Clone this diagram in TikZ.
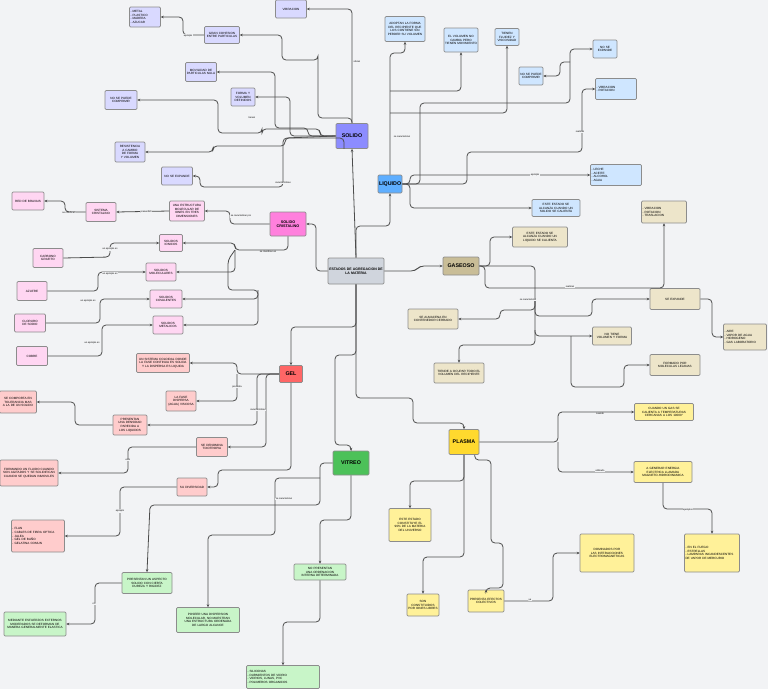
\documentclass[tikz,border=0pt]{standalone}
\usepackage{fontspec}
\setmainfont{Liberation Sans}
\usetikzlibrary{arrows.meta}
\uchyph=0
\hyphenpenalty=10000
\exhyphenpenalty=10000
\definecolor{bg}{HTML}{F2F3F5}
\definecolor{cS}{HTML}{8C8CFF}\definecolor{lS}{HTML}{D9D9FF}
\definecolor{cC}{HTML}{FF80DD}\definecolor{lC}{HTML}{FFD6F2}
\definecolor{cL}{HTML}{5EAEFF}\definecolor{lL}{HTML}{CFE6FF}
\definecolor{cG}{HTML}{C9BD97}\definecolor{lG}{HTML}{EDE5CA}
\definecolor{cR}{HTML}{FF6666}\definecolor{lR}{HTML}{FFCCCC}
\definecolor{cV}{HTML}{4CC159}\definecolor{lV}{HTML}{C8F5C8}
\definecolor{cP}{HTML}{FFD92E}\definecolor{lP}{HTML}{FFF199}
\definecolor{cM}{HTML}{D0D5DD}
\newcommand\bx[7]{\pgfmathsetmacro\tw{#4*0.75-1.5}\node[#6, minimum width=#4*0.75pt, minimum height=#5*0.75pt, text width=\tw pt] (#1) at (#2,#3) {#7};}
\tikzset{
 box/.style={draw=black!45, line width=.5pt, fill=#1, rounded corners=.8pt, inner sep=.5pt, align=center, font=\fontsize{2.3}{2.8}\selectfont},
 lbox/.style={box=#1, align=left},
 main/.style={box=#1, font=\fontsize{4}{4.6}\selectfont\bfseries},
 e/.style={draw=black!70, line width=.6pt, rounded corners=3pt, -{Stealth[length=2.2pt,width=2pt]}},
 l/.style={font=\fontsize{1.8}{2}\selectfont, fill=bg, inner sep=.3pt}
}
\begin{document}
\begin{tikzpicture}[x=0.75pt,y=-0.75pt]
\fill[bg] (0,0) rectangle (768,689);
\useasboundingbox (0,0) rectangle (768,689);
% main
\bx{c}{356}{271}{56}{26}{box=cM,font=\fontsize{2.6}{3}\selectfont\bfseries}{ESTADOS DE AGREGACION DE\\LA MATERIA}
\bx{sol}{352}{136}{32}{25}{main=cS}{SOLIDO}
\bx{cri}{288}{224}{36}{24}{box=cC,font=\fontsize{2.8}{3.3}\selectfont\bfseries}{SOLIDO CRISTALINO}
\bx{liq}{390}{184}{24}{18}{main=cL}{LIQUIDO}
\bx{gas}{461}{266}{36}{18}{main=cG}{GASEOSO}
\bx{gel}{291}{374}{23}{17}{main=cR}{GEL}
\bx{vit}{351}{463}{36}{24}{main=cV}{VITREO}
\bx{pla}{464}{442}{30}{25}{main=cP}{PLASMA}
% solido
\bx{vib}{291}{9}{31}{18}{box=lS}{VIBRACION}
\bx{met}{145}{17}{31}{20}{lbox=lS}{- METAL\\- PLASTICO\\- MADERA\\- AZUCAR}
\bx{gra}{222}{35}{35}{17}{box=lS}{GRAN COHESION ENTRE PARTICULAS}
\bx{mov}{201}{72}{31}{19}{box=lS}{MOVILIDAD DE PARTICULAS NULA}
\bx{for}{243}{97}{24}{18}{box=lS}{FORMA Y VOLUMEN DEFINIDOS}
\bx{noc}{121}{100}{32}{19}{box=lS}{NO SE PUEDE COMPRIMIR}
\bx{res}{130}{152}{30}{20}{box=lS}{RESISTENCIA A CAMBIO DE FORMA Y VOLUMEN}
\bx{noe}{177}{176}{31}{18}{box=lS}{NO SE EXPANDE}
% cristalino
\bx{est}{187}{211}{35}{20}{box=lC}{UNA ESTRUCTURA MOLECULAR DE IONES EN TRES DIMENSIONES}
\bx{sis}{101}{212}{30}{19}{box=lC}{SISTEMA CRISTALINO}
\bx{red}{28}{201}{32}{18}{box=lC}{RED DE BRAVAIS}
\bx{ion}{171}{243}{23}{17}{box=lC}{SOLIDOS IONICOS}
\bx{mol}{161}{272}{30}{18}{box=lC}{SOLIDOS MOLECULARES}
\bx{cov}{166}{299}{32}{18}{box=lC}{SOLIDOS COVALENTES}
\bx{mtl}{168}{325}{30}{18}{box=lC}{SOLIDOS METALICOS}
\bx{ex1}{48}{258}{30}{19}{box=lC}{CARBONO GRAFITO}
\bx{ex2}{32}{291}{30}{19}{box=lC}{AZUFRE}
\bx{ex3}{30}{323}{31}{18}{box=lC}{CLORURO DE SODIO}
\bx{ex4}{32}{356}{31}{19}{box=lC}{COBRE}
% liquido
\bx{ado}{405}{29}{40}{25}{box=lL}{ADOPTAN LA FORMA DEL RECIPIENTE QUE LOS CONTIENE SIN PERDER SU VOLUMEN}
\bx{vol}{461}{40}{34}{24}{box=lL}{EL VOLUMEN NO CAMBIA PERO TIENEN MOVIMIENTO}
\bx{flu}{507}{37}{24}{17}{box=lL}{TIENEN FLUIDEZ Y VISCOSIDAD}
\bx{lnoe}{605}{49}{24}{18}{box=lL}{NO SE EXPANDE}
\bx{lnoc}{531}{76}{24}{18}{box=lL}{NO SE PUEDE COMPRIMIR}
\bx{lvib}{616}{89}{41}{21}{lbox=lL}{- VIBRACION\\- ROTACION}
\bx{lej}{616}{175}{51}{21}{lbox=lL}{- LECHE\\- ACEITE\\- ALCOHOL\\- AGUA}
\bx{lest}{556}{208}{48}{17}{box=lL}{ESTE ESTADO SE ALCANZA CUANDO UN SOLIDO SE CALIENTA}
% gaseoso
\bx{gvib}{664}{212}{45}{22}{lbox=lG}{- VIBRACION\\- ROTACION\\- TRASLACION}
\bx{gest}{540}{237}{55}{20}{box=lG}{ESTE ESTADO SE ALCANZA CUANDO UN LIQUIDO SE CALIENTA}
\bx{gexp}{675}{299}{50}{21}{box=lG}{SE EXPANDE}
\bx{gair}{745}{337}{43}{26}{lbox=lG}{- AIRE\\- VAPOR DE AGUA\\- HIDROGENO\\- GAS LABORATORIO}
\bx{gnot}{612}{336}{39}{18}{box=lG}{NO TIENE VOLUMEN Y FORMA}
\bx{gfor}{675}{365}{50}{21}{box=lG}{FORMADO POR MOLECULAS LEJANAS}
\bx{galm}{433}{319}{50}{20}{box=lG}{SE ALMACENA EN CONTENEDOR CERRADO}
\bx{gtie}{459}{373}{50}{20}{box=lG}{TIENDE A OCUPAR TODO EL VOLUMEN DEL RECIPIENTE}
% gel
\bx{rsis}{163}{363}{53}{19}{box=lR}{UN SISTEMA COLOIDAL DONDE LA FASE CONTINUA ES SOLIDA Y LA DISPERSA ES LIQUIDA}
\bx{rfas}{181}{401}{30}{20}{box=lR}{LA FASE DISPERSA (AGUA) VISCOSA}
\bx{rcom}{18}{402}{37}{22}{box=lR}{SE COMPORTA EN TOLERANCIA MAS A LA DE UN SOLIDO}
\bx{rden}{130}{425}{34}{20}{box=lR}{PRESENTAN UNA DENSIDAD PARECIDA A LOS LIQUIDOS}
\bx{rtix}{212}{447}{31}{19}{box=lR}{SE DENOMINA TIXOTROPIA}
\bx{rfor}{29}{473}{58}{26}{box=lR}{FORMANDO UN FLUIDO CUANDO SON AGITADOS Y SE SOLIDIFICAN CUANDO SE QUEDAN INMOVILES}
\bx{rdiv}{192}{487}{30}{18}{box=lR}{SU DIVERSIDAD}
\bx{rej}{38}{536}{53}{32}{lbox=lR}{- FLAN\\- CABLES DE FIBRA OPTICA\\- JALEA\\- GEL DE BA\~NO\\- GELATINA COMUN}
% vitreo
\bx{vasp}{147}{583}{50}{21}{box=lV}{PRESENTAN UN ASPECTO SOLIDO CON CIERTA DUREZA Y RIGIDEZ}
\bx{vela}{35}{624}{62}{24}{box=lV}{MEDIANTE ESFUERZOS EXTERNOS MODERADOS SE DEFORMAN DE MANERA GENERALMENTE ELASTICA}
\bx{vpos}{208}{620}{63}{25}{box=lV}{POSEER UNA DISPERSION MOLECULAR, NO MUESTRAN UNA ESTRUCTURA ORDENADA DE LARGO ALCANCE}
\bx{vnop}{320}{572}{52}{16}{box=lV}{NO PRESENTAN UNA ORDENACION INTERNA DETERMINADA}
\bx{vsil}{283}{677}{73}{23}{lbox=lV}{- SILICONAS\\- DURMIENTOS DE VIDRIO\\- VIDRIOS, LUNAS, PVC\\- POLIMEROS ORGANICOS}
% plasma
\bx{pcua}{664}{412}{59}{17}{box=lP}{CUANDO UN GAS SE CALIENTA A TEMPERATURAS CERCANAS A LOS 10000\textdegree}
\bx{pgen}{663}{472}{58}{21}{box=lP}{A GENERAR ENERGIA ELECTRICA LLAMADA MAGNETO-HIDRODINAMICA}
\bx{pej}{712}{553}{55}{38}{lbox=lP}{- EN EL FUEGO\\- ESTRELLAS\\- LAMPARAS INCANDESCENTES DE VAPOR DE MERCURIO}
\bx{p99}{410}{525}{42}{33}{box=lP}{ESTE ESTADO CONSTITUYE EL 99\% DE LA MATERIA DEL UNIVERSO}
\bx{pion}{423}{605}{32}{22}{box=lP}{SON CONSTITUIDOS POR IONES LIBRES}
\bx{pcol}{486}{601}{36}{22}{box=lP}{PRESENTA EFECTOS COLECTIVOS}
\bx{pdom}{607}{553}{54}{38}{box=lP}{DOMINADOS POR LAS INTERACCIONES ELECTROMAGNETICAS}
% ---- edges central
\draw[e] (c.north) -- (sol.south);
\draw[e] (c.north) |- (390,226) -- (liq.south);
\draw[e] (c.west) -- (316,271) |- (cri.east);
\draw[e] (c.east) -- (415,271) -- (420,266) -- (gas.west);
\draw[e] (c.south) |- (291,327) -- (gel.north);
\draw[e] (c.south) |- (335,355) |- (351,445) -- (vit.north);
\draw[e] (c.south) |- (413,398) |- (464,423) -- (pla.north);
% solido
\draw[e] (sol.north) |- (vib.east);
\draw[e] (sol.north) |- (318,118) -- (318,60) |- (282,60) |- (gra.east);
\draw[e] (sol.west) -| (308,128) -- (275,128) |- (mov.east);
\draw[e] (sol.west) -- (290,136) |- (for.east);
\draw[e] (gra.west) -- (183,35) |- (met.east);
\draw[e] (sol.west) -- (320,136) |- (262,129) |- (218,133) |- (noc.east);
\draw[e] (sol.west) -- (285,138) |- (213,146) |- (res.east);
\draw[e] (sol.south) ++(-8,0) |- (283,138) -- (283,187) -- (200,187) |- (noe.east);
% cristalino
\draw[e] (cri.west) -- (230,224) |- (est.east);
\draw[e] (est.west) -- (sis.east);
\draw[e] (sis.west) -- (65,212) |- (red.east);
\draw[e] (cri.south) |- (235,250) |- (ion.east);
\draw[e] (235,250) |- (mol.east);
\draw[e] (235,250) -- (228,260) |- (258,290) |- (cov.east);
\draw[e] (258,290) |- (mtl.east);
\draw[e] (ex1.east) -- (110,257) |- (ion.west);
\draw[e] (ex2.east) -- (98,291) |- (mol.west);
\draw[e] (ex3.east) -- (100,323) |- (cov.west);
\draw[e] (ex4.east) -- (102,356) |- (mtl.west);
% liquido
\draw[e] (liq.north) |- (405,53) -- (ado.south);
\draw[e] (390,91) -| (vol.south);
\draw[e] (390,113) -| (flu.south);
\draw[e] (liq.east) -- (420,184) |- (570,103) |- (lnoe.west);
\draw[e] (570,62) -- (560,62) |- (lnoc.east);
\draw[e] (liq.east) -- (467,184) |- (582,152) |- (lvib.west);
\draw[e] (liq.east) -- (410,184) |- (lej.west);
\draw[e] (liq.east) -- (410,184) |- (lest.west);
% gaseoso
\draw[e] (gas.east) -- (490,266) |- (gest.west);
\draw[e] (gas.east) -- (485,266) |- (640,288) -| (gvib.south);
\draw[e] (gas.east) -- (535,266) |- (592,316) |- (gexp.west);
\draw[e] (gexp.east) -- (712,299) |- (gair.west);
\draw[e] (535,300) |- (gnot.west);
\draw[e] (571,336) |- (624,387) |- (gfor.west);
\draw[e] (535,300) |- (500,310) |- (galm.east);
\draw[e] (535,330) |- (459,345) -- (gtie.north);
% gel
\draw[e] (gel.west) -- (237,374) |- (rsis.east);
\draw[e] (237,374) |- (rfas.east);
\draw[e] (gel.west) -- (257,374) |- (rden.east);
\draw[e] (gel.west) -- (266,374) |- (rtix.east);
\draw[e] (gel.south) |- (218,470) |- (rdiv.east);
\draw[e] (rden.west) -- (75,425) |- (rcom.east);
\draw[e] (rtix.west) -- (128,447) |- (rfor.east);
\draw[e] (rdiv.west) -- (120,487) |- (rej.east);
% vitreo
\draw[e] (vit.west) -- (320,463) |- (150,505) -- (vasp.north);
\draw[e] (320,478) -- (275,478) |- (208,535) -- (vpos.north);
\draw[e] (vit.south) |- (320,520) -- (vnop.north);
\draw[e] (vnop.south) |- (283,622) -- (vsil.north);
\draw[e] (vasp.west) -- (95,583) |- (vela.east);
% plasma
\draw[e] (pla.east) -- (558,442) |- (pcua.west);
\draw[e] (558,442) |- (pgen.west);
\draw[e] (pgen.south) |- (712,509) -- (pej.north);
\draw[e] (pla.south) |- (410,481) -- (p99.north);
\draw[e] (pla.south) |- (423,557) -- (pion.north);
\draw[e] ([xshift=8pt]pla.south) |- (491,460) |- (503,543) |- (486,588) -- (pcol.north);
\draw[e] (pcol.east) -- (553,601) |- (pdom.west);
% labels
\node[l] at (357,62) {vibran};
\node[l] at (188,36) {ejemplo};
\node[l] at (252,118) {tienen};
\node[l] at (283,183) {caracter\'isticas};
\node[l] at (241,216) {se caracterizan por};
\node[l] at (146,212) {presentan};
\node[l] at (69,213) {se clasifican};
\node[l] at (268,252) {se clasifican en};
\node[l] at (110,249) {un ejemplo es};
\node[l] at (110,274) {un ejemplo es};
\node[l] at (88,301) {un ejemplo es};
\node[l] at (92,343) {un ejemplo es};
\node[l] at (402,137) {se caracterizan};
\node[l] at (580,132) {realizan};
\node[l] at (535,175) {ejemplo};
\node[l] at (570,287) {realizan};
\node[l] at (528,300) {se caracterizan};
\node[l] at (237,387) {presenta};
\node[l] at (258,410) {caracter\'isticas};
\node[l] at (128,460) {esto};
\node[l] at (120,511) {ejemplo};
\node[l] at (284,499) {se caracterizan};
\node[l] at (94,604) {no};
\node[l] at (600,414) {cuando};
\node[l] at (600,471) {utilizado};
\node[l] at (688,510) {ejemplos};
\node[l] at (530,600) {ya};
\end{tikzpicture}
\end{document}
